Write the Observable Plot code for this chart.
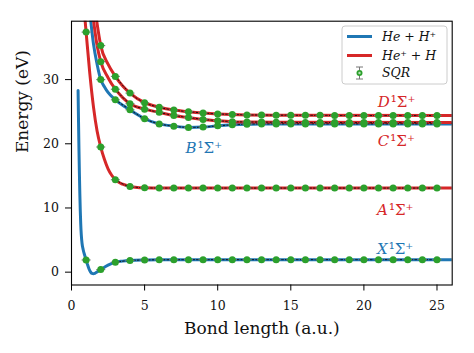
<!DOCTYPE html>
<html><head><meta charset="utf-8">
<script src="https://cdn.jsdelivr.net/npm/d3@7"></script>
<script src="https://cdn.jsdelivr.net/npm/@observablehq/plot@0.6"></script>
<style>
body{margin:0;background:#fff;}
#wrap{position:relative;width:474px;height:353px;}
#legend{position:absolute;left:0;top:0;pointer-events:none;}
svg text{font-family:"DejaVu Serif";}
</style></head><body><div id="wrap"></div>
<script>
// ---- axis ticks ----
const xTicks = [0, 5, 10, 15, 20, 25];
const yTicks = [0, 10, 20, 30];
const xLabel = "Bond length (a.u.)";
const yLabel = "Energy (eV)";

// ---- legend ----
const legendNames = ["He + H⁺", "He⁺ + H", "SQR"];

// ---- continuous curves (bond length, energy) ----
const curveR_X = [0.45,0.48,0.51,0.54,0.57,0.6,0.63,0.67,0.72,0.8,0.9,1.0,1.1,1.2,1.3,1.4,1.5,1.6,1.8,2.0,2.5,3,3.5,4,5,6,8,26];
const curveE_X = [28.3,23.5,19.2,15.4,12.2,9.6,7.6,5.8,4.5,3.5,2.65,1.9,1.15,0.5,0.05,-0.2,-0.25,-0.18,0.1,0.4,1.1,1.56,1.72,1.82,1.9,1.93,1.95,1.95];

const curveR_A = [0.9,1.0,1.25,1.5,1.75,2.0,2.25,2.5,2.75,3,3.5,4,4.5,5,6,26];
const curveE_A = [40.0,37.4,31.0,25.8,22.0,19.5,17.6,16.1,15.1,14.4,13.7,13.35,13.2,13.15,13.1,13.1];

const curveR_B = [1.3,1.5,1.75,2.0,2.25,2.5,3,3.5,4,4.5,5,6,7,8,9,10,11,12,13,26];
const curveE_B = [39.5,35.6,32.4,30.0,28.9,28.0,26.85,26.0,25.3,24.55,23.9,23.1,22.75,22.55,22.6,22.8,22.95,23.05,23.1,23.1];

const curveR_C = [1.5,1.75,2.0,2.5,3,3.5,4,5,6,7,8,9,10,11,12,14,26];
const curveE_C = [39.3,35.3,32.8,30.3,28.5,27.2,26.25,25.4,24.9,24.4,24.1,23.8,23.6,23.45,23.4,23.35,23.3];

const curveR_D = [1.7,2.0,2.5,3,3.5,4,5,6,7,8,9,10,12,15,26];
const curveE_D = [39.5,35.3,32.4,30.5,29.0,27.9,26.4,25.7,25.25,25.0,24.8,24.65,24.5,24.45,24.4];

// ---- SQR points at integer bond lengths ----
const sqrR = [1,2,3,4,5,6,7,8,9,10,11,12,13,14,15,16,17,18,19,20,21,22,23,24,25];
const sqrX = [1.9,0.4,1.56,1.82,1.9,1.93,1.94,1.95,1.95,1.95,1.95,1.95,1.95,1.95,1.95,1.95,1.95,1.95,1.95,1.95,1.95,1.95,1.95,1.95,1.95];
const sqrA = [37.4,19.5,14.4,13.35,13.15,13.1,13.1,13.1,13.1,13.1,13.1,13.1,13.1,13.1,13.1,13.1,13.1,13.1,13.1,13.1,13.1,13.1,13.1,13.1,13.1];
const sqrB = [null,30.0,26.85,25.3,23.9,23.1,22.75,22.55,22.6,22.8,22.95,23.05,23.1,23.1,23.1,23.1,23.1,23.1,23.1,23.1,23.1,23.1,23.1,23.1,23.1];
const sqrC = [null,32.8,28.5,26.25,25.4,24.9,24.4,24.1,23.8,23.6,23.45,23.4,23.38,23.35,23.33,23.32,23.31,23.3,23.3,23.3,23.3,23.3,23.3,23.3,23.3];
const sqrD = [null,35.3,30.5,27.9,26.4,25.7,25.25,25.0,24.8,24.65,24.58,24.5,24.48,24.46,24.45,24.44,24.43,24.42,24.41,24.4,24.4,24.4,24.4,24.4,24.4];

// ---- state labels ----
const stateLetters = ["X","A","B","C","D"];
const stateSuffix = "¹Σ⁺";
const stateLabelR = [20.9, 20.9, 7.8, 20.95, 20.95];
const stateLabelE = [2.86, 8.98, 18.6, 19.73, 25.7];

const BLUE = "#1f77b4", RED = "#d62728", GREEN = "#2ca02c";
const stateColors = [BLUE, RED, BLUE, RED, RED];
const FONT = "DejaVu Serif";

const rows = (rs, es) => rs.map((r, i) => ({r, e: es[i]})).filter(d => d.e != null);
const curves = [
  {d: rows(curveR_X, curveE_X), c: BLUE},
  {d: rows(curveR_B, curveE_B), c: BLUE},
  {d: rows(curveR_A, curveE_A), c: RED},
  {d: rows(curveR_C, curveE_C), c: RED},
  {d: rows(curveR_D, curveE_D), c: RED}
];
const sqrSets = [sqrX, sqrA, sqrB, sqrC, sqrD].map(s => rows(sqrR, s));
const sqrAll = sqrSets.flat();

const capSymbol = {draw(ctx) { ctx.moveTo(-4.5, 0); ctx.lineTo(4.5, 0); }};

const cv = document.createElement("canvas").getContext("2d");
cv.font = `italic 15px '${FONT}'`;

const labelMarks = [];
stateLetters.forEach((L, i) => {
  const dat = [{r: stateLabelR[i], e: stateLabelE[i]}];
  const w = cv.measureText(L).width;
  labelMarks.push(Plot.text(dat, {x: "r", y: "e", text: () => L, textAnchor: "start", lineAnchor: "bottom",
    fontStyle: "italic", fontSize: 15, fontFamily: FONT, fill: stateColors[i]}));
  labelMarks.push(Plot.text(dat, {x: "r", y: "e", text: () => stateSuffix, textAnchor: "start", lineAnchor: "bottom",
    fontSize: 15, fontFamily: FONT, fill: stateColors[i], dx: w + 1}));
});

const chart = Plot.plot({
  width: 474, height: 353,
  marginLeft: 71, marginRight: 22.3, marginTop: 20.7, marginBottom: 68.5,
  style: {fontFamily: FONT, background: "#fff", color: "#111"},
  x: {domain: [0, 26.04]},
  y: {domain: [-2.0, 39.1]},
  marks: [
    ...curves.map(c => Plot.line(c.d, {x: "r", y: "e", stroke: c.c, strokeWidth: 3, curve: "monotone-x", clip: true})),
    ...sqrSets.map(s => Plot.line(s.filter(d => d.r >= 3), {x: "r", y: "e", stroke: "#111", strokeWidth: 1, strokeDasharray: "1.5,2.2", curve: "monotone-x"})),
    Plot.dot(sqrAll, {x: "r", y: "e", symbol: capSymbol, fill: "none", stroke: "#777", strokeWidth: 1.1, r: 4}),
    Plot.dot(sqrAll, {x: "r", y: "e", r: 3.5, fill: GREEN, stroke: "none"}),
    Plot.frame({stroke: "#000", strokeWidth: 1.1}),
    Plot.axisX({ticks: xTicks, tickSize: 6, tickPadding: 10, fontSize: 12.5, fontFamily: FONT, label: null, stroke: "#000"}),
    Plot.axisY({ticks: yTicks, tickSize: 6, tickPadding: 6.5, fontSize: 12.5, fontFamily: FONT, label: null, stroke: "#000"}),
    Plot.text([xLabel], {frameAnchor: "bottom", dy: 44, fontSize: 17, fontFamily: FONT, lineAnchor: "middle"}),
    Plot.text([yLabel], {frameAnchor: "left", dx: -49, rotate: -90, fontSize: 17, fontFamily: FONT, lineAnchor: "middle"}),
    ...labelMarks
  ]
});
const wrap = document.getElementById("wrap");
wrap.appendChild(chart);

// ---- legend overlay ----
const ns = "http://www.w3.org/2000/svg";
const lg = document.createElementNS(ns, "svg");
lg.setAttribute("id", "legend");
lg.setAttribute("width", 474); lg.setAttribute("height", 353);
const el = (tag, attrs, text) => { const e = document.createElementNS(ns, tag); for (const k in attrs) e.setAttribute(k, attrs[k]); if (text) e.textContent = text; lg.appendChild(e); return e; };
el("rect", {x: 342, y: 26, width: 105, height: 58, rx: 3, fill: "#fff", "fill-opacity": 0.85, stroke: "#ccc", "stroke-width": 1});
const rowY = [36.5, 55.5, 73];
el("line", {x1: 347, x2: 372, y1: rowY[0], y2: rowY[0], stroke: BLUE, "stroke-width": 3});
el("line", {x1: 347, x2: 372, y1: rowY[1], y2: rowY[1], stroke: RED, "stroke-width": 3});
el("line", {x1: 359.5, x2: 359.5, y1: rowY[2] - 6, y2: rowY[2] + 6, stroke: "#777", "stroke-width": 1});
el("line", {x1: 356, x2: 363, y1: rowY[2] - 6, y2: rowY[2] - 6, stroke: "#777", "stroke-width": 1});
el("line", {x1: 356, x2: 363, y1: rowY[2] + 6, y2: rowY[2] + 6, stroke: "#777", "stroke-width": 1});
el("circle", {cx: 359.5, cy: rowY[2], r: 3, fill: GREEN});
el("circle", {cx: 359.5, cy: rowY[2], r: 1.2, fill: "#b8e2b8"});
legendNames.forEach((n, i) => el("text", {x: 382, y: rowY[i] + 4.3, "font-family": FONT, "font-style": "italic", "font-size": 12.5, fill: "#111"}, n));
wrap.appendChild(lg);
</script></body></html>
